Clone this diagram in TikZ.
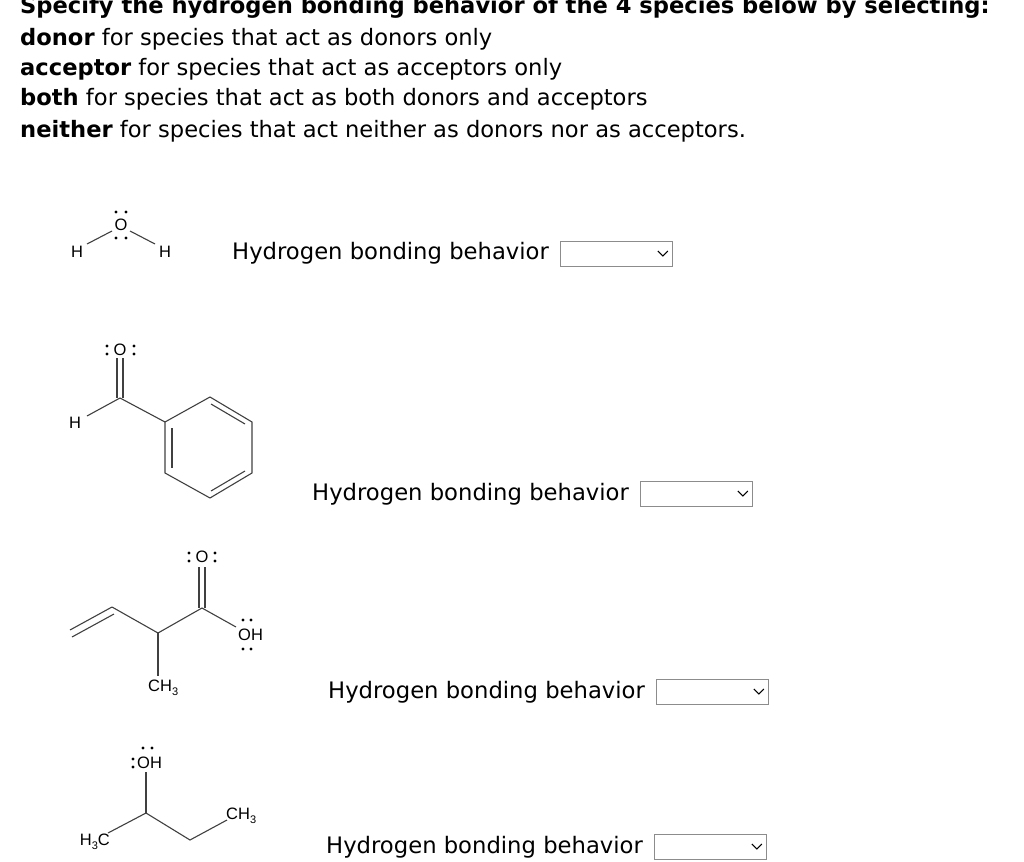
\documentclass[tikz,border=0pt]{standalone}
\usepackage{fontspec}
\setmainfont{DejaVu Sans}
\newfontfamily\chem{Liberation Sans}
\usetikzlibrary{calc}
\newcommand\sub[1]{\raisebox{-0.25em}{\fontsize{11}{11}\selectfont #1}}
\begin{document}
\begin{tikzpicture}[x=1pt,y=-1pt,
  hdr/.style={anchor=west,inner sep=0pt,font=\fontsize{22.6}{23}\selectfont},
  lbl/.style={anchor=west,inner sep=0pt,font=\fontsize{22.7}{23}\selectfont},
  atm/.style={inner sep=0pt,font=\chem\fontsize{16.5}{17}\selectfont},
  bd/.style={line width=1.1pt,color=black!75},
  dd/.style={draw=black!45,line width=0.8pt,minimum width=112pt,minimum height=25pt,inner sep=0pt,anchor=west}]
\useasboundingbox (0,0) rectangle (1024,861);
\newcommand\lp[2]{\fill[black] (#1,#2) circle (1.6pt);}
\newcommand\dropdown[3]{\node[dd] (#1) at (#2,#3) {};
  \draw[line width=1pt] ($(#1.east)+(-15,-3)$) -- ($(#1.east)+(-10,2)$) -- ($(#1.east)+(-5,-3)$);}
% header
\node[hdr] (h0) at (20,7) {\textbf{Specify the hydrogen bonding behavior of the 4 species below by selecting:}};
\node[hdr] (h1) at (20,39) {\textbf{donor} for species that act as donors only};
\node[hdr] (h2) at (20,69) {\textbf{acceptor} for species that act as acceptors only};
\node[hdr] (h3) at (20,99) {\textbf{both} for species that act as both donors and acceptors};
\node[hdr] (h4) at (20,131) {\textbf{neither} for species that act neither as donors nor as acceptors.};
% molecule 1: water
\node[atm] (o1) at (121,225) {O};
\node[atm] (h1a) at (77,252) {H};
\node[atm] (h1b) at (165,252) {H};
\draw[bd] (87,244) -- (112,231);
\draw[bd] (130,231) -- (155,244);
\lp{116}{212}\lp{126}{212}\lp{116}{238}\lp{126}{238}
\node[lbl] (t1) at (232,253) {Hydrogen bonding behavior};
\dropdown{d1}{560}{254}
% molecule 2: benzaldehyde
\node[atm] (o2) at (120,350) {O};
\lp{107}{346}\lp{107}{354}\lp{134}{346}\lp{134}{354}
\node[atm] (h2a) at (75,423) {H};
\draw[bd] (117,358) -- (117,398);
\draw[bd] (123,358) -- (123,398);
\draw[bd] (87,416) -- (120,398) -- (165,422);
\draw[bd] (165,422) -- (210,397) -- (252,422) -- (252,473) -- (210,498) -- (165,473) -- cycle;
\draw[bd] (172,428) -- (172,468);
\draw[bd] (211,404) -- (245,424);
\draw[bd] (245,471) -- (211,491);
\node[lbl] (t2) at (312,494) {Hydrogen bonding behavior};
\dropdown{d2}{640}{494}
% molecule 3
\node[atm] (o3) at (202,557) {O};
\lp{189}{553}\lp{189}{561}\lp{215}{553}\lp{215}{561}
\draw[bd] (199,567) -- (199,608);
\draw[bd] (205,567) -- (205,608);
\draw[bd] (70,630) -- (112,607);
\draw[bd] (72,637) -- (114,614);
\draw[bd] (112,607) -- (158,633) -- (202,608) -- (236,627);
\draw[bd] (158,633) -- (158,676);
\node[atm,anchor=west] (oh3) at (238,635) {OH};
\lp{243}{620}\lp{251}{620}\lp{243}{649}\lp{251}{649}
\node[atm,anchor=west] (ch3a) at (148,688) {CH\sub{3}};
\node[lbl] (t3) at (328,692) {Hydrogen bonding behavior};
\dropdown{d3}{656}{692}
% molecule 4
\node[atm,anchor=west] (oh4) at (137,763) {OH};
\lp{133}{759}\lp{133}{767}\lp{143}{748}\lp{152}{748}
\draw[bd] (146,772) -- (146,813);
\draw[bd] (108,833) -- (146,813) -- (190,840) -- (227,820);
\node[atm,anchor=east] (h3c) at (110,842) {H\sub{3}C};
\node[atm,anchor=west] (ch3b) at (226,816) {CH\sub{3}};
\node[lbl] (t4) at (326,847) {Hydrogen bonding behavior};
\dropdown{d4}{654}{847}
\end{tikzpicture}
\end{document}
